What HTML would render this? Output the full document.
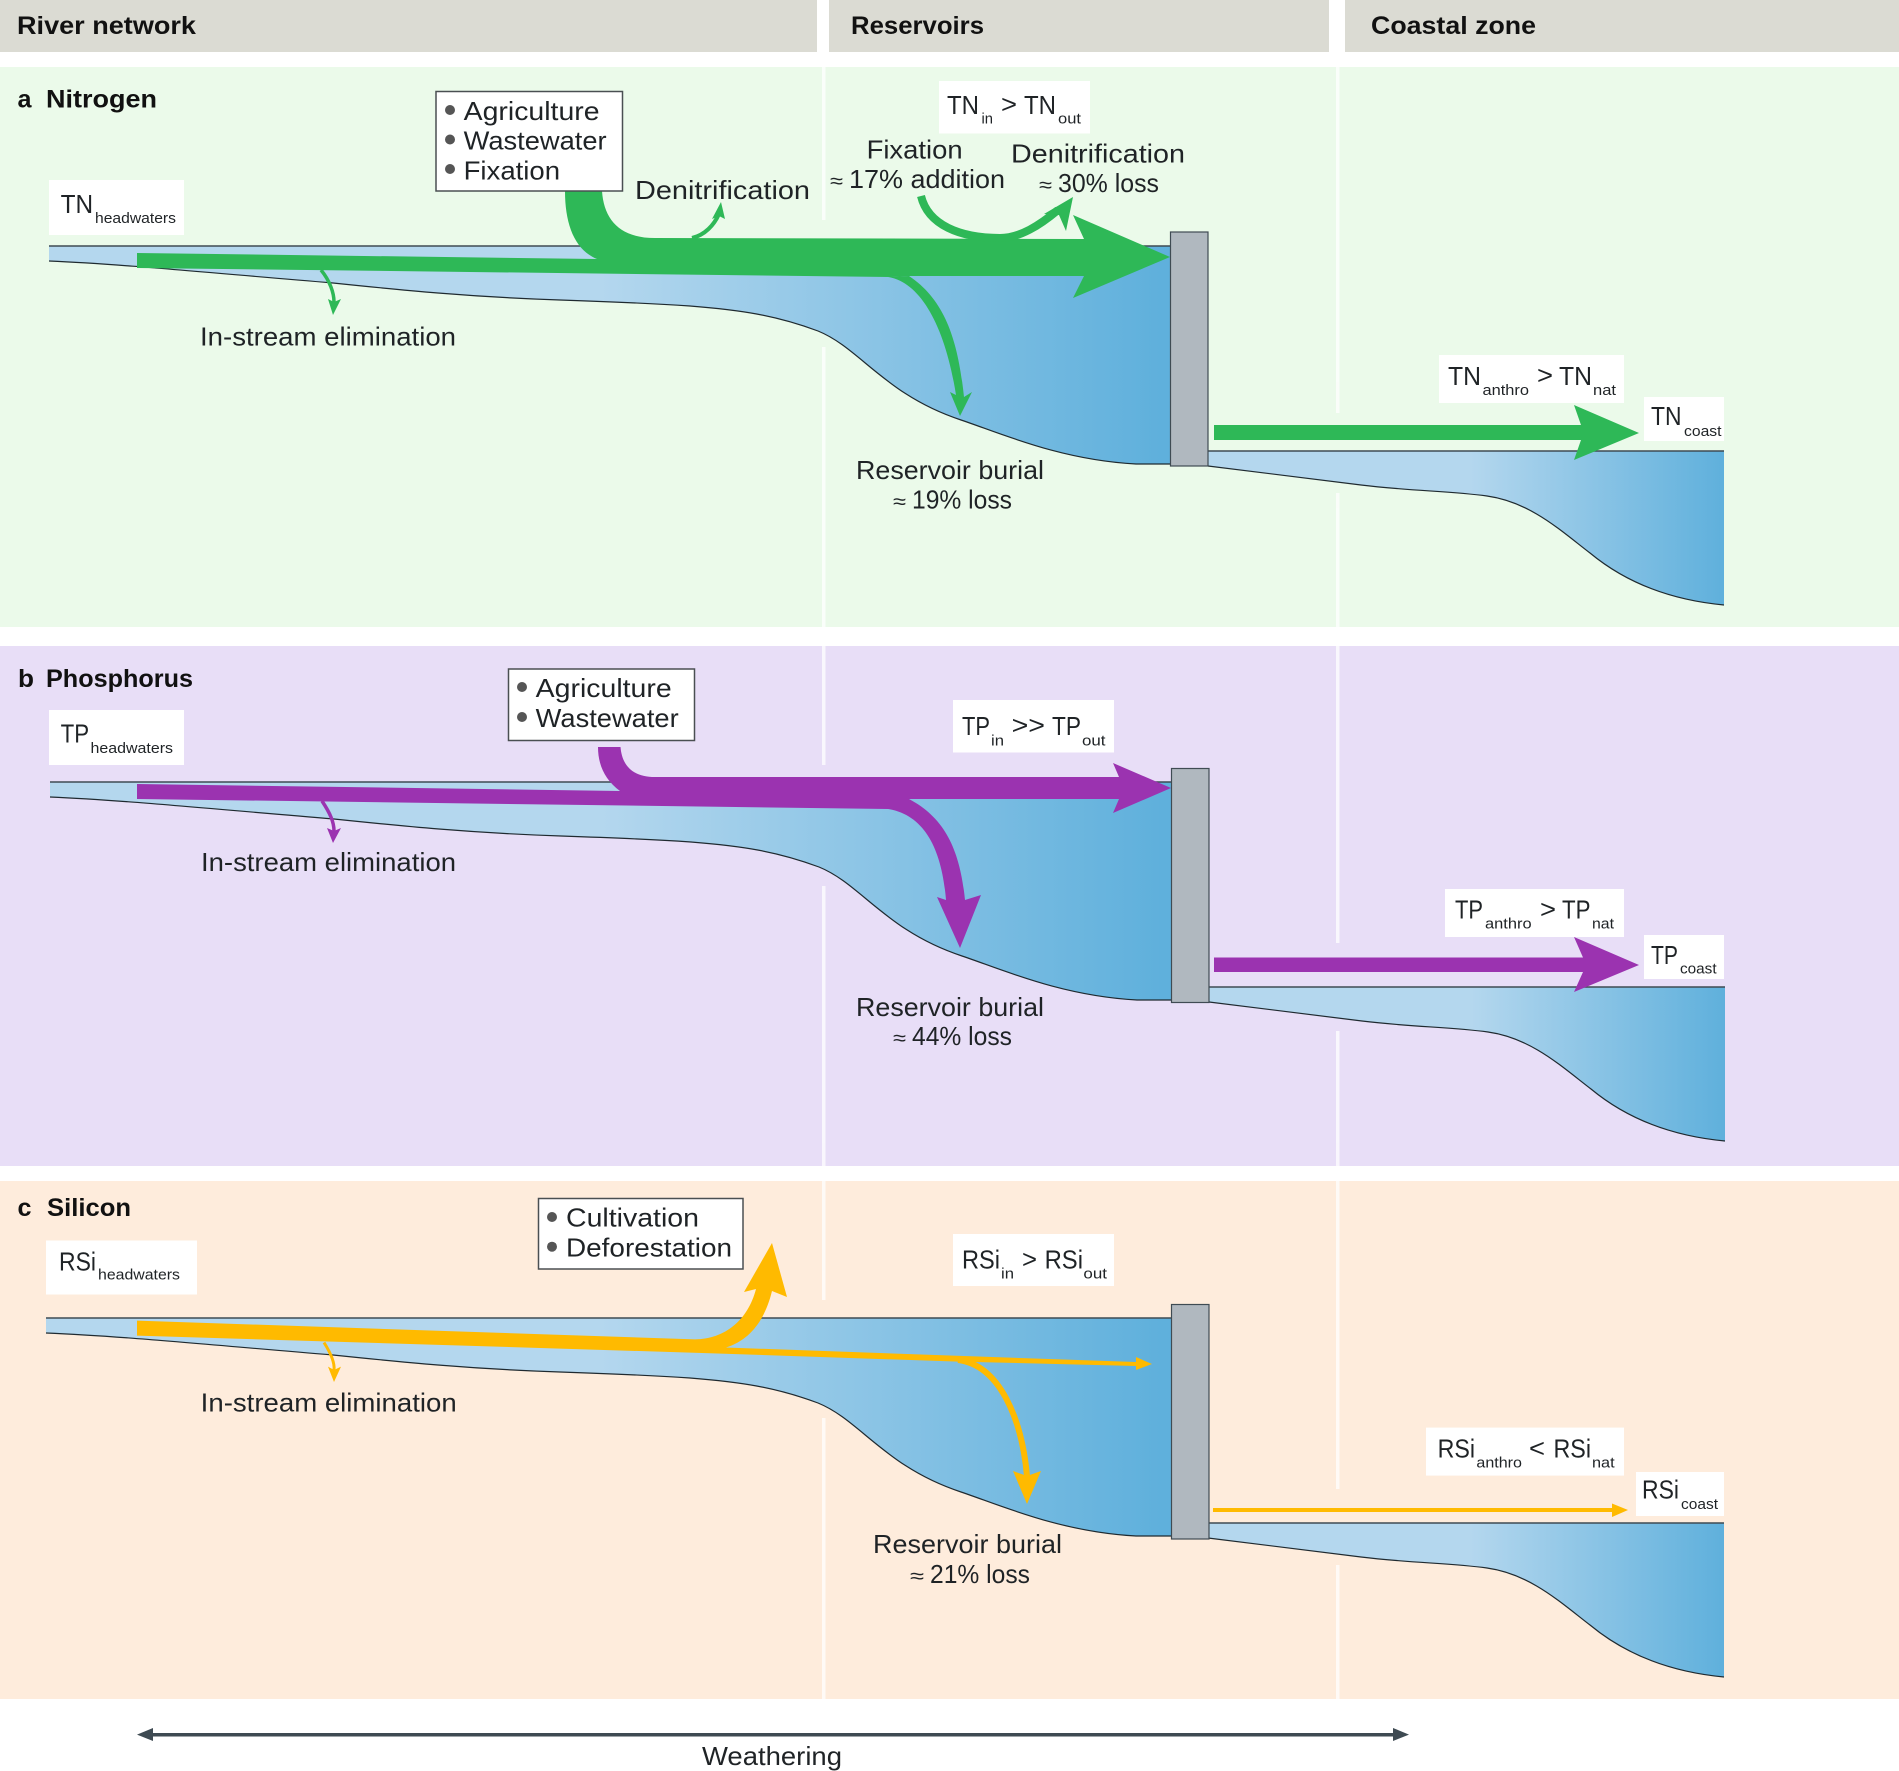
<!DOCTYPE html>
<html><head><meta charset="utf-8"><title>Nutrient fluxes along the river-reservoir-coast continuum</title>
<style>
html,body{margin:0;padding:0;background:#fff}
svg{display:block}
text{font-family:"Liberation Sans",sans-serif;fill:#1f2326}
.m{font-size:26px}
.s{font-size:15px}
.h{font-size:25px;font-weight:bold;fill:#111}
.w{font-size:21px}
</style></head><body>
<svg xmlns="http://www.w3.org/2000/svg" width="1899" height="1771" viewBox="0 0 1899 1771">
<defs>
<linearGradient id="g1" gradientUnits="userSpaceOnUse" x1="600" y1="0" x2="1160" y2="0"><stop offset="0" stop-color="#b4d7ee"/><stop offset="1" stop-color="#5fb0dc"/></linearGradient>
<linearGradient id="g2" gradientUnits="userSpaceOnUse" x1="1470" y1="0" x2="1724" y2="0"><stop offset="0" stop-color="#b4d7ee"/><stop offset="1" stop-color="#5fb0dc"/></linearGradient>
<g id="down">
<path fill="url(#g2)" d="M1208,451 L1724,451 L1724,605 C1670,600 1625,582 1590,553 C1560,530 1530,502 1487,496 C1450,491 1410,491 1361,485 L1208,466 Z"/>
<path fill="none" stroke="#3f4b53" stroke-width="1.6" d="M1208,451 L1724,451"/>
<path fill="none" stroke="#1f2a30" stroke-width="1.2" d="M1208,466 L1361,485 C1410,491 1450,491 1487,496 C1530,502 1560,530 1590,553 C1625,582 1670,600 1724,605"/>
</g>
</defs>

<!-- headers -->
<rect x="0" y="0" width="817" height="52" fill="#dbdbd3"/>
<rect x="829" y="0" width="500" height="52" fill="#dbdbd3"/>
<rect x="1345" y="0" width="554" height="52" fill="#dbdbd3"/>
<text class="h" x="17" y="34" textLength="179" lengthAdjust="spacingAndGlyphs">River network</text>
<text class="h" x="851" y="34" textLength="133" lengthAdjust="spacingAndGlyphs">Reservoirs</text>
<text class="h" x="1371" y="34" textLength="165" lengthAdjust="spacingAndGlyphs">Coastal zone</text>

<!-- panels -->
<rect x="0" y="67" width="1899" height="560" fill="#ebfaea"/>
<rect x="0" y="646" width="1899" height="520" fill="#e8def7"/>
<rect x="0" y="1181" width="1899" height="518" fill="#feecdc"/>

<!-- white dividers -->
<g fill="#fff" opacity=".75">
<rect x="822" y="67" width="3.5" height="153"/><rect x="822" y="347" width="3.5" height="280"/>
<rect x="1336" y="67" width="3.5" height="346"/><rect x="1336" y="493" width="3.5" height="134"/>
<rect x="822" y="646" width="3.5" height="119"/><rect x="822" y="886" width="3.5" height="280"/>
<rect x="1336" y="646" width="3.5" height="297"/><rect x="1336" y="1031" width="3.5" height="135"/>
<rect x="822" y="1181" width="3.5" height="119"/><rect x="822" y="1418" width="3.5" height="281"/>
<rect x="1336" y="1181" width="3.5" height="308"/><rect x="1336" y="1565" width="3.5" height="134"/>
</g>

<!-- rivers -->
<g id="ra">
<path fill="url(#g1)" d="M49,246 L1170,246 L1170,464 L1136,464 C1060,460 1000,433 961,420 C885,395 860,348 818,331 C775,315 740,310 690,306 C660,304 620,302 560,300 C470,297 400,290 333,283 C200,272 120,264 49,261 Z"/>
<path fill="none" stroke="#3f4b53" stroke-width="1.6" d="M49,246 L1170,246"/>
<path fill="none" stroke="#1f2a30" stroke-width="1.2" d="M49,261 C120,264 200,272 333,283 C400,290 470,297 560,300 C620,302 660,304 690,306 C740,310 775,315 818,331 C860,348 885,395 961,420 C1000,433 1060,460 1136,464 L1170,464"/>
<use href="#down"/>
</g>
<g transform="translate(1,536)">
<path fill="url(#g1)" d="M49,246 L1170,246 L1170,464 L1136,464 C1060,460 1000,433 961,420 C885,395 860,348 818,331 C775,315 740,310 690,306 C660,304 620,302 560,300 C470,297 400,290 333,283 C200,272 120,264 49,261 Z"/>
<path fill="none" stroke="#3f4b53" stroke-width="1.6" d="M49,246 L1170,246"/>
<path fill="none" stroke="#1f2a30" stroke-width="1.2" d="M49,261 C120,264 200,272 333,283 C400,290 470,297 560,300 C620,302 660,304 690,306 C740,310 775,315 818,331 C860,348 885,395 961,420 C1000,433 1060,460 1136,464 L1170,464"/>
<use href="#down"/>
</g>
<g transform="translate(0,1072)">
<path fill="url(#g1)" d="M46,246 L1171,246 L1171,464 L1136,464 C1060,460 1000,433 961,420 C885,395 860,348 818,331 C775,315 740,310 690,306 C660,304 620,302 560,300 C470,297 400,290 333,283 C200,272 120,264 46,261 Z"/>
<path fill="none" stroke="#3f4b53" stroke-width="1.6" d="M46,246 L1171,246"/>
<path fill="none" stroke="#1f2a30" stroke-width="1.2" d="M46,261 C120,264 200,272 333,283 C400,290 470,297 560,300 C620,302 660,304 690,306 C740,310 775,315 818,331 C860,348 885,395 961,420 C1000,433 1060,460 1136,464 L1171,464"/>
<use href="#down"/>
</g>

<!-- nitrogen arrows -->
<g fill="#2eb857">
<path d="M137,253 L597,259 C575,250 565,225 565,191 L602,191 C604,220 620,238 655,238 L1084,239 L1073,215 L1170,257 L1073,298 L1084,276 L909,276 L891,277 L137,268 Z"/>
<path d="M888,277 C920,282 945,325 956,395 L950,392 L960,416 L972,392 L964,397 C958,340 945,300 909,276 Z"/>
<path fill="none" stroke="#2eb857" stroke-width="8" d="M921,196 C928,225 960,238 1000,238 C1020,238 1040,225 1058,210"/>
<polygon points="1044,214 1073,197 1066,231 1059,215"/>
<path fill="none" stroke="#2eb857" stroke-width="4" d="M692,238 C705,235 714,225 719,214"/>
<polygon points="712,219 721,202 725,219 719,216"/>
<path fill="none" stroke="#2eb857" stroke-width="3.5" d="M321,270 C330,281 334,293 334,302"/>
<polygon points="328,299 334,302 341,299 333,315"/>
<polygon points="1214,425 1581,425 1574,405 1639,433 1574,460 1581,440 1214,440"/>
</g>

<!-- phosphorus arrows -->
<g fill="#9b33b0">
<path d="M137,784 L620,791 C605,780 598,765 598,747 L620.5,747 C622,765 632,777 655,777 L1119,777 L1113,763 L1171,788 L1113,813 L1119,799 L909,799 C945,818 960,850 965,900 L981,895 L960,948 L937,897 L946,900 C942,850 925,815 888,809 L137,799 Z"/>
<path fill="none" stroke="#9b33b0" stroke-width="3.5" d="M322,801 C330,813 334,822 334,831"/>
<polygon points="327,828 334,831 341,828 333,843"/>
<polygon points="1214,957.5 1583,957.5 1574,937 1639,965 1574,992 1583,972 1214,972"/>
</g>

<!-- silicon arrows -->
<g fill="#ffba00">
<path d="M137,1320.6 L695,1339.4 C725,1339 748,1320 756,1289 L744,1292 L772,1243 L787,1297 L772,1291 C765,1320 750,1340 726,1347.5 L964,1356 L1136,1362 L1136,1357 L1152,1364 L1136,1370 L1136,1366 L958,1361.6 L702,1353 L137,1335.6 Z"/>
<path fill="none" stroke="#ffba00" stroke-width="6" d="M958,1360 C1000,1365 1022,1420 1027,1476"/>
<polygon points="1013,1471 1027,1476 1041,1471 1027,1504"/>
<path fill="none" stroke="#ffba00" stroke-width="3" d="M324,1342.5 C330,1352 335,1362 334,1370"/>
<polygon points="328,1366.6 334,1370 341,1366.6 334,1382"/>
<rect x="1213" y="1508" width="402" height="4"/>
<polygon points="1612,1503.5 1628,1510 1612,1517"/>
</g>

<!-- dams -->
<rect x="1170.5" y="232" width="37.5" height="234" fill="#b0b8bf" stroke="#3f4b53" stroke-width="1.2"/>
<rect x="1171.5" y="768.5" width="37.5" height="234" fill="#b0b8bf" stroke="#3f4b53" stroke-width="1.2"/>
<rect x="1171.5" y="1304.5" width="37.5" height="234.5" fill="#b0b8bf" stroke="#3f4b53" stroke-width="1.2"/>

<!-- weathering -->
<rect x="150" y="1733" width="1246" height="3.5" fill="#3e4a52"/>
<polygon points="137,1734.6 153,1728 153,1741" fill="#3e4a52"/>
<polygon points="1409,1734.6 1393,1728 1393,1741" fill="#3e4a52"/>
<text class="m" x="702" y="1765" textLength="140" lengthAdjust="spacingAndGlyphs">Weathering</text>

<!-- panel titles -->
<text class="h" x="17.5" y="107.7" textLength="14" lengthAdjust="spacingAndGlyphs">a</text>
<text class="h" x="46" y="107.7" textLength="111" lengthAdjust="spacingAndGlyphs">Nitrogen</text>
<text class="h" x="18" y="687" textLength="16" lengthAdjust="spacingAndGlyphs">b</text>
<text class="h" x="46" y="687" textLength="147" lengthAdjust="spacingAndGlyphs">Phosphorus</text>
<text class="h" x="17.5" y="1216" textLength="14" lengthAdjust="spacingAndGlyphs">c</text>
<text class="h" x="47" y="1216" textLength="84" lengthAdjust="spacingAndGlyphs">Silicon</text>

<!-- panel a labels -->
<rect x="49" y="180" width="135" height="55" fill="#fff"/>
<text class="m" x="60.6" y="213" textLength="32.5" lengthAdjust="spacingAndGlyphs">TN</text>
<text class="s" x="95" y="223" textLength="81" lengthAdjust="spacingAndGlyphs">headwaters</text>
<rect x="436" y="91.5" width="186.5" height="99.5" fill="#fff" stroke="#4a4f52" stroke-width="1.5"/>
<circle cx="450" cy="110" r="5" fill="#555"/><circle cx="450" cy="139.5" r="5" fill="#555"/><circle cx="450" cy="169" r="5" fill="#555"/>
<text class="m" x="463.6" y="120" textLength="136" lengthAdjust="spacingAndGlyphs">Agriculture</text>
<text class="m" x="463.6" y="149.5" textLength="143" lengthAdjust="spacingAndGlyphs">Wastewater</text>
<text class="m" x="463.6" y="179.5" textLength="96.5" lengthAdjust="spacingAndGlyphs">Fixation</text>
<text class="m" x="635" y="199" textLength="175" lengthAdjust="spacingAndGlyphs">Denitrification</text>
<text class="m" x="200" y="345.5" textLength="256" lengthAdjust="spacingAndGlyphs">In-stream elimination</text>
<rect x="939" y="81" width="151" height="52.5" fill="#fff"/>
<text class="m" x="947" y="114" textLength="32" lengthAdjust="spacingAndGlyphs">TN</text>
<text class="s" x="981.5" y="123.7" textLength="11.5" lengthAdjust="spacingAndGlyphs">in</text>
<text class="m" x="1001" y="113" textLength="16" lengthAdjust="spacingAndGlyphs">&gt;</text>
<text class="m" x="1024" y="114" textLength="32" lengthAdjust="spacingAndGlyphs">TN</text>
<text class="s" x="1058" y="123.7" textLength="23" lengthAdjust="spacingAndGlyphs">out</text>
<text class="m" x="866.6" y="158.4" textLength="96" lengthAdjust="spacingAndGlyphs">Fixation</text>
<text class="w" x="830" y="187.8" textLength="13" lengthAdjust="spacingAndGlyphs">≈</text>
<text class="m" x="849" y="187.8" textLength="156" lengthAdjust="spacingAndGlyphs">17% addition</text>
<text class="m" x="1011" y="162.4" textLength="174" lengthAdjust="spacingAndGlyphs">Denitrification</text>
<text class="w" x="1039" y="192" textLength="13" lengthAdjust="spacingAndGlyphs">≈</text>
<text class="m" x="1058" y="192" textLength="101" lengthAdjust="spacingAndGlyphs">30% loss</text>
<text class="m" x="856" y="479" textLength="188" lengthAdjust="spacingAndGlyphs">Reservoir burial</text>
<text class="w" x="893" y="508.6" textLength="13" lengthAdjust="spacingAndGlyphs">≈</text>
<text class="m" x="912" y="508.6" textLength="100" lengthAdjust="spacingAndGlyphs">19% loss</text>
<rect x="1439" y="355" width="185" height="48" fill="#fff"/>
<text class="m" x="1448" y="385" textLength="33" lengthAdjust="spacingAndGlyphs">TN</text>
<text class="s" x="1482.5" y="395" textLength="46.5" lengthAdjust="spacingAndGlyphs">anthro</text>
<text class="m" x="1537" y="384" textLength="16" lengthAdjust="spacingAndGlyphs">&gt;</text>
<text class="m" x="1559" y="385" textLength="33" lengthAdjust="spacingAndGlyphs">TN</text>
<text class="s" x="1593" y="395" textLength="23" lengthAdjust="spacingAndGlyphs">nat</text>
<rect x="1644" y="397" width="80" height="44" fill="#fff"/>
<text class="m" x="1651" y="425" textLength="30.5" lengthAdjust="spacingAndGlyphs">TN</text>
<text class="s" x="1684" y="436" textLength="37.5" lengthAdjust="spacingAndGlyphs">coast</text>

<!-- panel b labels -->
<rect x="49" y="710" width="135" height="55" fill="#fff"/>
<text class="m" x="60.6" y="742.5" textLength="28.5" lengthAdjust="spacingAndGlyphs">TP</text>
<text class="s" x="90.5" y="753" textLength="82.5" lengthAdjust="spacingAndGlyphs">headwaters</text>
<rect x="508.5" y="669" width="186" height="71.5" fill="#fff" stroke="#4a4f52" stroke-width="1.5"/>
<circle cx="522" cy="687" r="5" fill="#555"/><circle cx="522" cy="717" r="5" fill="#555"/>
<text class="m" x="535.7" y="697" textLength="136" lengthAdjust="spacingAndGlyphs">Agriculture</text>
<text class="m" x="535.7" y="727" textLength="143" lengthAdjust="spacingAndGlyphs">Wastewater</text>
<text class="m" x="201" y="871" textLength="255" lengthAdjust="spacingAndGlyphs">In-stream elimination</text>
<rect x="953" y="700" width="161" height="52.5" fill="#fff"/>
<text class="m" x="962" y="735" textLength="28" lengthAdjust="spacingAndGlyphs">TP</text>
<text class="s" x="991" y="745.4" textLength="13" lengthAdjust="spacingAndGlyphs">in</text>
<text class="m" x="1011.6" y="734" textLength="33.4" lengthAdjust="spacingAndGlyphs">&gt;&gt;</text>
<text class="m" x="1052" y="735" textLength="29" lengthAdjust="spacingAndGlyphs">TP</text>
<text class="s" x="1082" y="745.4" textLength="23.5" lengthAdjust="spacingAndGlyphs">out</text>
<text class="m" x="856" y="1016" textLength="188" lengthAdjust="spacingAndGlyphs">Reservoir burial</text>
<text class="w" x="893" y="1045" textLength="13" lengthAdjust="spacingAndGlyphs">≈</text>
<text class="m" x="912" y="1045" textLength="100" lengthAdjust="spacingAndGlyphs">44% loss</text>
<rect x="1445" y="889" width="179" height="48" fill="#fff"/>
<text class="m" x="1455" y="918.6" textLength="28" lengthAdjust="spacingAndGlyphs">TP</text>
<text class="s" x="1485" y="928.6" textLength="46.6" lengthAdjust="spacingAndGlyphs">anthro</text>
<text class="m" x="1540" y="918" textLength="16" lengthAdjust="spacingAndGlyphs">&gt;</text>
<text class="m" x="1562" y="918.6" textLength="28.5" lengthAdjust="spacingAndGlyphs">TP</text>
<text class="s" x="1592" y="928.6" textLength="22" lengthAdjust="spacingAndGlyphs">nat</text>
<rect x="1644" y="935" width="80" height="44" fill="#fff"/>
<text class="m" x="1651" y="964" textLength="27" lengthAdjust="spacingAndGlyphs">TP</text>
<text class="s" x="1680" y="973.6" textLength="36.6" lengthAdjust="spacingAndGlyphs">coast</text>

<!-- panel c labels -->
<rect x="46" y="1240.5" width="151" height="54" fill="#fff"/>
<text class="m" x="59" y="1270.4" textLength="37" lengthAdjust="spacingAndGlyphs">RSi</text>
<text class="s" x="98" y="1279.6" textLength="82" lengthAdjust="spacingAndGlyphs">headwaters</text>
<rect x="538.5" y="1198.5" width="204.5" height="70.5" fill="#fff" stroke="#4a4f52" stroke-width="1.5"/>
<circle cx="552" cy="1217" r="5" fill="#555"/><circle cx="552" cy="1246.7" r="5" fill="#555"/>
<text class="m" x="566" y="1226.7" textLength="133" lengthAdjust="spacingAndGlyphs">Cultivation</text>
<text class="m" x="566" y="1256.6" textLength="166" lengthAdjust="spacingAndGlyphs">Deforestation</text>
<text class="m" x="200.7" y="1411.5" textLength="256" lengthAdjust="spacingAndGlyphs">In-stream elimination</text>
<rect x="953" y="1234" width="161" height="52" fill="#fff"/>
<text class="m" x="962" y="1268.5" textLength="38" lengthAdjust="spacingAndGlyphs">RSi</text>
<text class="s" x="1001" y="1278.5" textLength="13" lengthAdjust="spacingAndGlyphs">in</text>
<text class="m" x="1022" y="1268" textLength="15" lengthAdjust="spacingAndGlyphs">&gt;</text>
<text class="m" x="1044.6" y="1268.5" textLength="38.4" lengthAdjust="spacingAndGlyphs">RSi</text>
<text class="s" x="1083.4" y="1278.5" textLength="23.6" lengthAdjust="spacingAndGlyphs">out</text>
<text class="m" x="873" y="1553" textLength="189" lengthAdjust="spacingAndGlyphs">Reservoir burial</text>
<text class="w" x="910" y="1583" textLength="14" lengthAdjust="spacingAndGlyphs">≈</text>
<text class="m" x="930" y="1583" textLength="100" lengthAdjust="spacingAndGlyphs">21% loss</text>
<rect x="1426" y="1427.6" width="198" height="48" fill="#fff"/>
<text class="m" x="1437.6" y="1457.5" textLength="37.4" lengthAdjust="spacingAndGlyphs">RSi</text>
<text class="s" x="1476.4" y="1467.4" textLength="45.6" lengthAdjust="spacingAndGlyphs">anthro</text>
<text class="m" x="1529" y="1457" textLength="16" lengthAdjust="spacingAndGlyphs">&lt;</text>
<text class="m" x="1553.5" y="1457.5" textLength="37.5" lengthAdjust="spacingAndGlyphs">RSi</text>
<text class="s" x="1592" y="1467.4" textLength="22.6" lengthAdjust="spacingAndGlyphs">nat</text>
<rect x="1636" y="1472" width="88" height="44" fill="#fff"/>
<text class="m" x="1642" y="1498.5" textLength="37" lengthAdjust="spacingAndGlyphs">RSi</text>
<text class="s" x="1681" y="1509" textLength="37" lengthAdjust="spacingAndGlyphs">coast</text>
</svg>
</body></html>
